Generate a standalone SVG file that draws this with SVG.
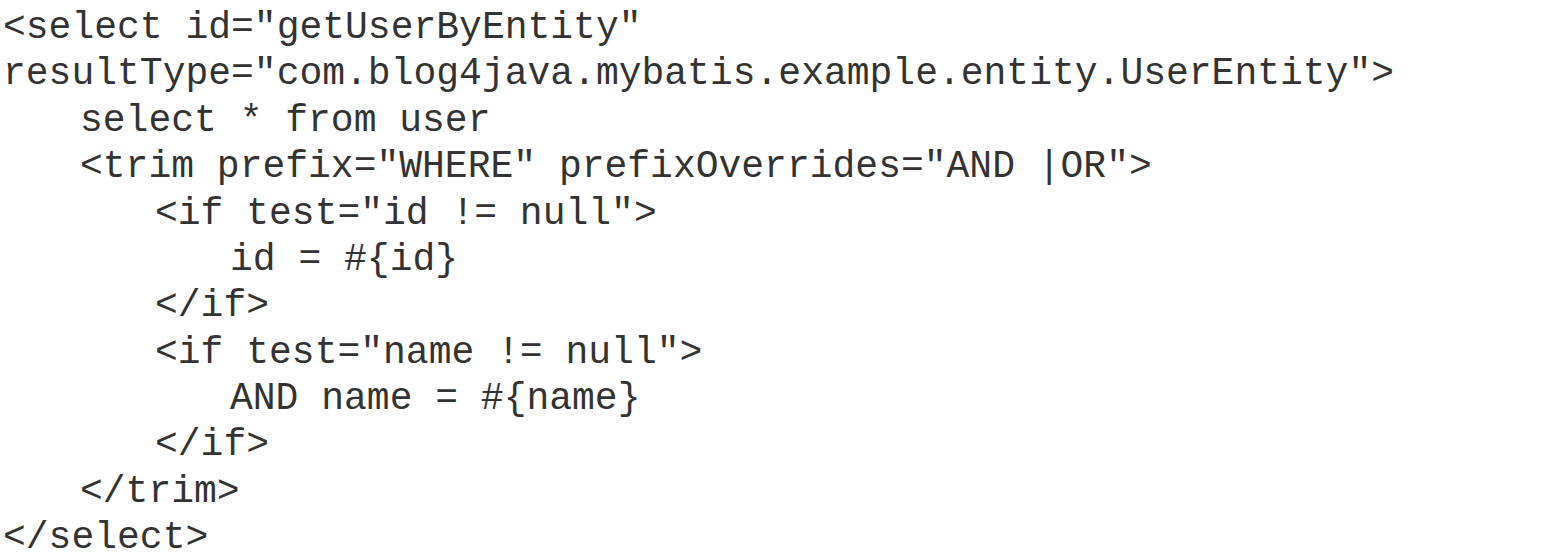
<svg xmlns="http://www.w3.org/2000/svg" width="1561" height="559" viewBox="0 0 1561 559">
<style>text{font-family:"Liberation Mono","Courier New",monospace;font-size:38px;fill:#333;white-space:pre}</style>
<rect width="1561" height="559" fill="#fff"/>
<g id="code">
<text x="3" y="38">&lt;select id="getUserByEntity"</text>
<text x="3" y="84">resultType="com.blog4java.mybatis.example.entity.UserEntity"&gt;</text>
<text x="80" y="131">select * from user</text>
<text x="80" y="177">&lt;trim prefix="WHERE" prefixOverrides="AND |OR"&gt;</text>
<text x="155" y="224">&lt;if test="id != null"&gt;</text>
<text x="230" y="270">id = #{id}</text>
<text x="155" y="316">&lt;/if&gt;</text>
<text x="155" y="363">&lt;if test="name != null"&gt;</text>
<text x="230" y="409">AND name = #{name}</text>
<text x="155" y="455">&lt;/if&gt;</text>
<text x="80" y="502">&lt;/trim&gt;</text>
<text x="3" y="548">&lt;/select&gt;</text>
</g>
</svg>
